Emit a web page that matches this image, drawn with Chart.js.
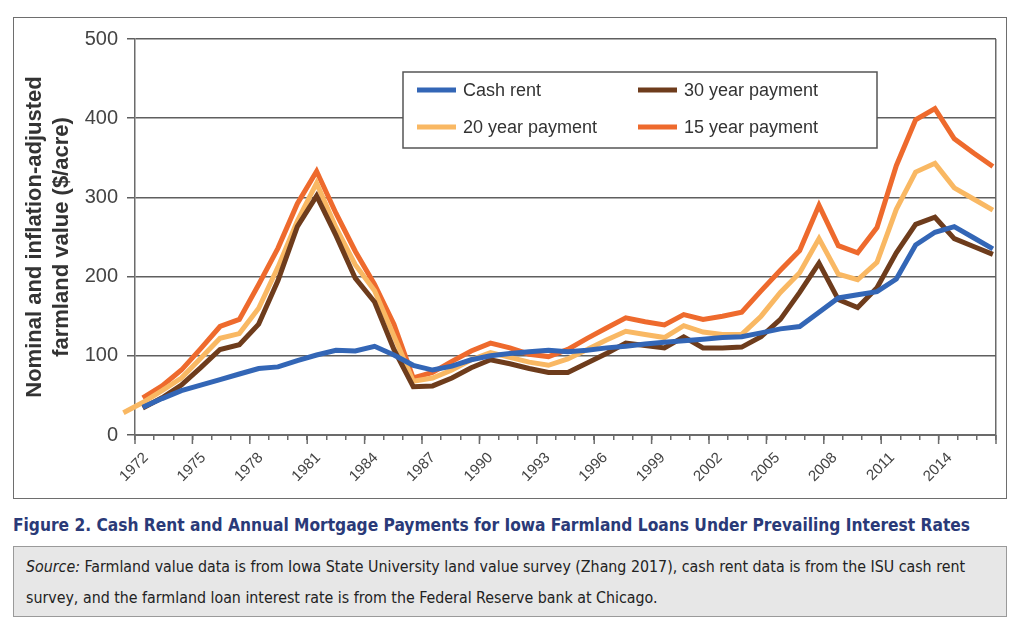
<!DOCTYPE html>
<html>
<head>
<meta charset="utf-8">
<script src="https://cdn.jsdelivr.net/npm/chart.js@4.4.1/dist/chart.umd.min.js"></script>
<style>
html,body{margin:0;padding:0;background:#fff;}
body{width:1024px;height:640px;position:relative;overflow:hidden;font-family:"Liberation Sans",Arial,Helvetica,sans-serif;}
#frame{position:absolute;left:13px;top:17px;width:994px;height:482px;box-sizing:border-box;border:1.5px solid #6e6e6e;background:#fff;}
#chart{position:absolute;left:0;top:0;}
.fit{position:absolute;white-space:nowrap;transform-origin:0 50%;display:inline-block;}
#caption{left:13px;top:515px;line-height:20px;font-size:17px;font-weight:bold;color:#2a3a78;font-family:"Liberation Sans Narrow","DejaVu Sans Condensed","Liberation Sans",Arial,sans-serif;}
#srcbox{position:absolute;left:13px;top:546px;width:994px;height:71px;box-sizing:border-box;background:#e7e7e7;border:1.5px solid #9a9a9a;}
.src{font-size:16px;line-height:20px;color:#222;font-family:"Liberation Sans Narrow","DejaVu Sans Condensed","Liberation Sans",Arial,sans-serif;}
#src1{left:26px;top:557px;}
#src2{left:26px;top:588px;}
</style>
</head>
<body>
<div id="frame"></div>
<canvas id="chart" width="1024" height="500"></canvas>
<div id="caption" class="fit">Figure 2. Cash Rent and Annual Mortgage Payments for Iowa Farmland Loans Under Prevailing Interest Rates</div>
<div id="srcbox"></div>
<div id="src1" class="fit src"><i>Source:</i> Farmland value data is from Iowa State University land value survey (Zhang 2017), cash rent data is from the ISU cash rent</div>
<div id="src2" class="fit src">survey, and the farmland loan interest rate is from the Federal Reserve bank at Chicago.</div>
<script>
// ---- data ----
const years = [1971,1972,1973,1974,1975,1976,1977,1978,1979,1980,1981,1982,1983,1984,1985,1986,1987,1988,1989,1990,1991,1992,1993,1994,1995,1996,1997,1998,1999,2000,2001,2002,2003,2004,2005,2006,2007,2008,2009,2010,2011,2012,2013,2014,2015,2016];
const cashRent = [null,35,46,56,63,70,77,84,86,94,101,107,106,112,101,88,82,87,95,100,103,105,107,105,107,110,112,115,117,119,121,123,124,129,134,137,155,173,177,181,197,240,256,263,249,235];
const pay30 = [null,34,47,63,85,108,114,140,195,263,302,252,198,168,108,61,62,72,85,95,90,84,79,79,91,103,116,113,110,124,110,110,111,124,146,180,217,171,161,186,230,266,275,248,238,228];
const pay20 = [28,41,56,72,97,122,128,160,212,270,318,262,215,182,125,68,72,82,95,104,98,92,88,96,108,120,131,127,123,138,130,127,127,150,180,205,248,203,196,218,285,332,343,312,298,284];
const pay15 = [null,47,62,82,109,137,146,190,236,292,333,280,232,190,140,72,79,93,106,116,110,102,99,108,122,135,148,143,139,152,146,150,155,182,208,233,290,239,230,262,340,398,412,374,356,339];
const seriesNames = ['Cash rent','30 year payment','20 year payment','15 year payment'];
const xLabelYears = [1972,1975,1978,1981,1984,1987,1990,1993,1996,1999,2002,2005,2008,2011,2014];
const yTicks = [0,100,200,300,400,500];
const yTitle = ['Nominal and inflation-adjusted','farmland value ($/acre)'];

const colors = ['#3366b6','#6e3c1c','#f9b863','#ee6a2d'];
const seriesValues = [cashRent, pay30, pay20, pay15];
const toPts = arr => years.map((y,i)=>({x:y, y:arr[i]}));

Chart.defaults.font.family = '"Liberation Sans", Arial, Helvetica, sans-serif';

const majorTicks = {
  id:'majorTicks',
  afterDraw(chart){
    const s = chart.scales.x, ctx = chart.ctx;
    ctx.save();
    ctx.strokeStyle = '#6b6b6b'; ctx.lineWidth = 1.5;
    xLabelYears.concat([2017]).forEach(v=>{
      const px = s.getPixelForValue(v);
      ctx.beginPath(); ctx.moveTo(px, s.top); ctx.lineTo(px, s.top + 9); ctx.stroke();
    });
    ctx.restore();
  }
};

const boxLegend = {
  id:'boxLegend',
  afterDatasetsDraw(chart){
    const ctx = chart.ctx;
    const box = {l:403, t:72, r:877, b:148};
    ctx.save();
    ctx.fillStyle = '#fff';
    ctx.fillRect(box.l, box.t, box.r-box.l, box.b-box.t);
    ctx.strokeStyle = '#555'; ctx.lineWidth = 1.5;
    ctx.strokeRect(box.l, box.t, box.r-box.l, box.b-box.t);
    const cells = [[417,90],[638,90],[417,127],[638,127]];
    chart.data.datasets.forEach((ds,i)=>{
      const [x,y] = cells[i];
      ctx.strokeStyle = ds.borderColor; ctx.lineWidth = 5; ctx.lineCap = 'butt';
      ctx.beginPath(); ctx.moveTo(x, y); ctx.lineTo(x+39, y); ctx.stroke();
      ctx.fillStyle = '#333'; ctx.font = '18px "Liberation Sans", Arial, sans-serif';
      ctx.textBaseline = 'middle'; ctx.textAlign = 'left';
      ctx.fillText(ds.label, x+46, y+1);
    });
    ctx.restore();
  }
};

new Chart(document.getElementById('chart'), {
  type:'line',
  data:{
    datasets: seriesNames.map((name,i)=>({
      label:name,
      data: toPts(seriesValues[i]),
      xAxisID:'xd', yAxisID:'y',
      borderColor: colors[i], backgroundColor: colors[i],
      borderWidth:5, pointRadius:0, tension:0, fill:false,
      clip: false
    }))
  },
  options:{
    responsive:false, animation:false, devicePixelRatio:1,
    layout:{padding:{top:39, right:28, left:14, bottom:0}},
    plugins:{legend:{display:false}, tooltip:{enabled:false}, title:{display:false}},
    scales:{
      xd:{type:'linear', display:false, min:1971.6, max:2016.16},
      x:{
        type:'linear', position:'bottom', min:1972, max:2017,
        afterFit(s){ s.height = 65; },
        ticks:{stepSize:1, autoSkip:false, minRotation:45, maxRotation:45, labelOffset:11, padding:9,
          color:'#444', font:{size:15},
          callback:v=>xLabelYears.includes(Math.round(v)) ? String(Math.round(v)) : ''},
        grid:{drawOnChartArea:true, color:c=> (c.tick && Math.round(c.tick.value)===2017) ? '#6b6b6b' : 'rgba(0,0,0,0)',
          lineWidth:1.5, tickColor:'#6b6b6b', tickLength:5, tickWidth:1.5},
        border:{display:true, color:'#6b6b6b', width:2}
      },
      y:{
        type:'linear', position:'left', min:0, max:500,
        afterFit(s){ s.width = 121; },
        afterBuildTicks(s){ s.ticks = yTicks.map(v=>({value:v})); },
        ticks:{padding:9, color:'#444', font:{size:20}},
        grid:{color:'#5f5f5f', lineWidth:1.5, tickLength:8, tickColor:'#5f5f5f'},
        border:{display:true, color:'#6b6b6b', width:1.5},
        title:{display:true, text:yTitle, color:'#333', font:{size:22, weight:'bold', lineHeight:1.21}, padding:{top:8, bottom:0}}
      }
    }
  },
  plugins:[majorTicks, boxLegend]
});

function fitTo(el, w){
  el.style.transform = 'none';
  const nat = el.getBoundingClientRect().width;
  const k = w / nat;
  el.style.transform = 'scaleX(' + k + ')';
  return k;
}
function fitAll(){
  fitTo(document.getElementById('caption'), 957);
  const k = fitTo(document.getElementById('src1'), 939);
  document.getElementById('src2').style.transform = 'scaleX(' + k + ')';
}
fitAll();
if (document.fonts && document.fonts.ready) document.fonts.ready.then(fitAll);
</script>
</body>
</html>
